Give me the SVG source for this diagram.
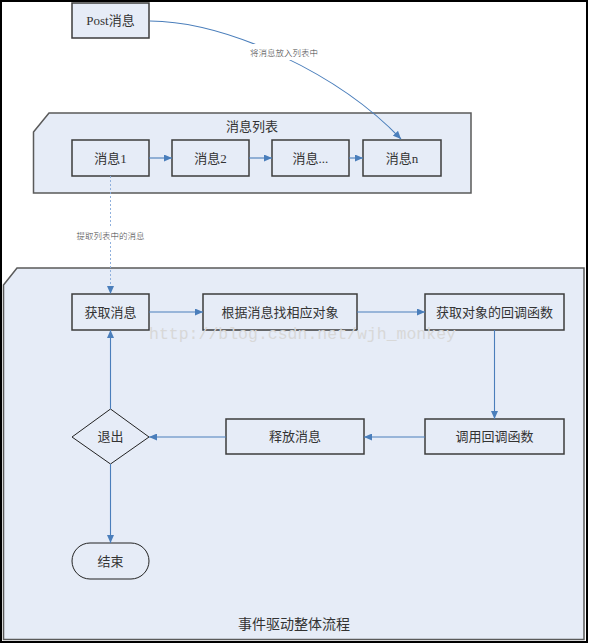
<svg xmlns="http://www.w3.org/2000/svg" width="589" height="644" viewBox="0 0 589 644">
<defs>
<style>
.box{fill:#e6ecf7;stroke:#3c3c3c;stroke-width:1.5}
.cont{fill:#e6ecf7;stroke:#5a5a5a;stroke-width:1.5}
.lbl{font-family:"Liberation Serif","Noto Sans CJK SC",serif;font-size:13px;fill:#333;text-anchor:middle;dominant-baseline:central}
.small{font-family:"Noto Sans CJK SC",sans-serif;font-size:8.5px;font-weight:300;fill:#444;text-anchor:middle;dominant-baseline:central}
.conn{fill:none;stroke:#4a7ebb;stroke-width:1.1}
.dash{fill:none;stroke:#8fb0dd;stroke-width:1;stroke-dasharray:2,2}
.wm{font-family:"Liberation Mono",monospace;font-size:16.5px;fill:#d8d8d8}
</style>
<marker id="ah" markerWidth="8" markerHeight="7" refX="8" refY="3.5" orient="auto" markerUnits="userSpaceOnUse">
<path d="M0,0 L8,3.5 L0,7 z" fill="#4a7ebb"/>
</marker>
</defs>
<rect x="0" y="0" width="589" height="644" fill="#fff"/>
<rect x="1" y="1" width="586" height="641" fill="none" stroke="#000" stroke-width="2"/>

<g id="main-container">
<polygon class="cont" points="3.5,285 17,268 584,268 584,639.5 3.5,639.5"/>
<text class="lbl" x="294" y="624" style="font-size:14px">事件驱动整体流程</text>
</g>

<g id="list-container">
<polygon class="cont" points="33.5,132 49,113 471,113 471,193 33.5,193"/>
<text class="lbl" x="252" y="126">消息列表</text>
</g>

<g id="post">
<rect class="box" x="72" y="3" width="77" height="35"/>
<text class="lbl" x="110.5" y="20.5">Post消息</text>
</g>
<g id="msg1">
<rect class="box" x="72" y="140" width="77" height="36"/>
<text class="lbl" x="110.5" y="158">消息1</text>
</g>
<g id="msg2">
<rect class="box" x="172" y="140" width="77" height="36"/>
<text class="lbl" x="210.5" y="158">消息2</text>
</g>
<g id="msg3">
<rect class="box" x="272" y="140" width="77" height="36"/>
<text class="lbl" x="310.5" y="158">消息...</text>
</g>
<g id="msgn">
<rect class="box" x="363" y="140" width="78" height="36"/>
<text class="lbl" x="402" y="158">消息n</text>
</g>

<g id="get-msg">
<rect class="box" x="72" y="294" width="77" height="36"/>
<text class="lbl" x="110.5" y="312">获取消息</text>
</g>
<g id="find-obj">
<rect class="box" x="203" y="294" width="154" height="36"/>
<text class="lbl" x="280" y="312">根据消息找相应对象</text>
</g>
<g id="get-cb">
<rect class="box" x="425" y="294" width="139" height="36"/>
<text class="lbl" x="494.5" y="312">获取对象的回调函数</text>
</g>
<g id="call-cb">
<rect class="box" x="425" y="419" width="139" height="35"/>
<text class="lbl" x="494.5" y="436.5">调用回调函数</text>
</g>
<g id="release">
<rect class="box" x="226" y="419" width="138" height="35"/>
<text class="lbl" x="295" y="436.5">释放消息</text>
</g>
<g id="exit">
<polygon points="110.5,409 149,437 110.5,464 72,437" fill="none" stroke="#222" stroke-width="1"/>
<text class="lbl" x="110.5" y="436.5">退出</text>
</g>
<g id="end">
<rect x="72" y="543" width="77" height="36" rx="18" ry="18" fill="none" stroke="#222" stroke-width="1"/>
<text class="lbl" x="110.5" y="561">结束</text>
</g>

<text class="wm" x="149" y="339">http://blog.csdn.net/wjh_monkey</text>

<g id="connectors">
<path class="conn" d="M150,21 C230,22 340,75 401,139" marker-end="url(#ah)"/>
<rect x="247" y="44" width="74" height="16" fill="#fff"/>
<text class="small" x="284" y="52">将消息放入列表中</text>
<line class="conn" x1="149" y1="158" x2="172" y2="158" marker-end="url(#ah)"/>
<line class="conn" x1="249" y1="158" x2="272" y2="158" marker-end="url(#ah)"/>
<line class="conn" x1="349" y1="158" x2="363" y2="158" marker-end="url(#ah)"/>
<line class="dash" x1="110.5" y1="176" x2="110.5" y2="227"/>
<line class="dash" x1="110.5" y1="242" x2="110.5" y2="294" marker-end="url(#ah)"/>
<text class="small" x="110.5" y="235">提取列表中的消息</text>
<line class="conn" x1="149" y1="312" x2="203" y2="312" marker-end="url(#ah)"/>
<line class="conn" x1="357" y1="312" x2="425" y2="312" marker-end="url(#ah)"/>
<line class="conn" x1="494.5" y1="330" x2="494.5" y2="419" marker-end="url(#ah)"/>
<line class="conn" x1="425" y1="437" x2="364" y2="437" marker-end="url(#ah)"/>
<line class="conn" x1="226" y1="437" x2="149" y2="437" marker-end="url(#ah)"/>
<line class="conn" x1="110.5" y1="409" x2="110.5" y2="330" marker-end="url(#ah)"/>
<line class="conn" x1="110.5" y1="464" x2="110.5" y2="543" marker-end="url(#ah)"/>
</g>
</svg>
